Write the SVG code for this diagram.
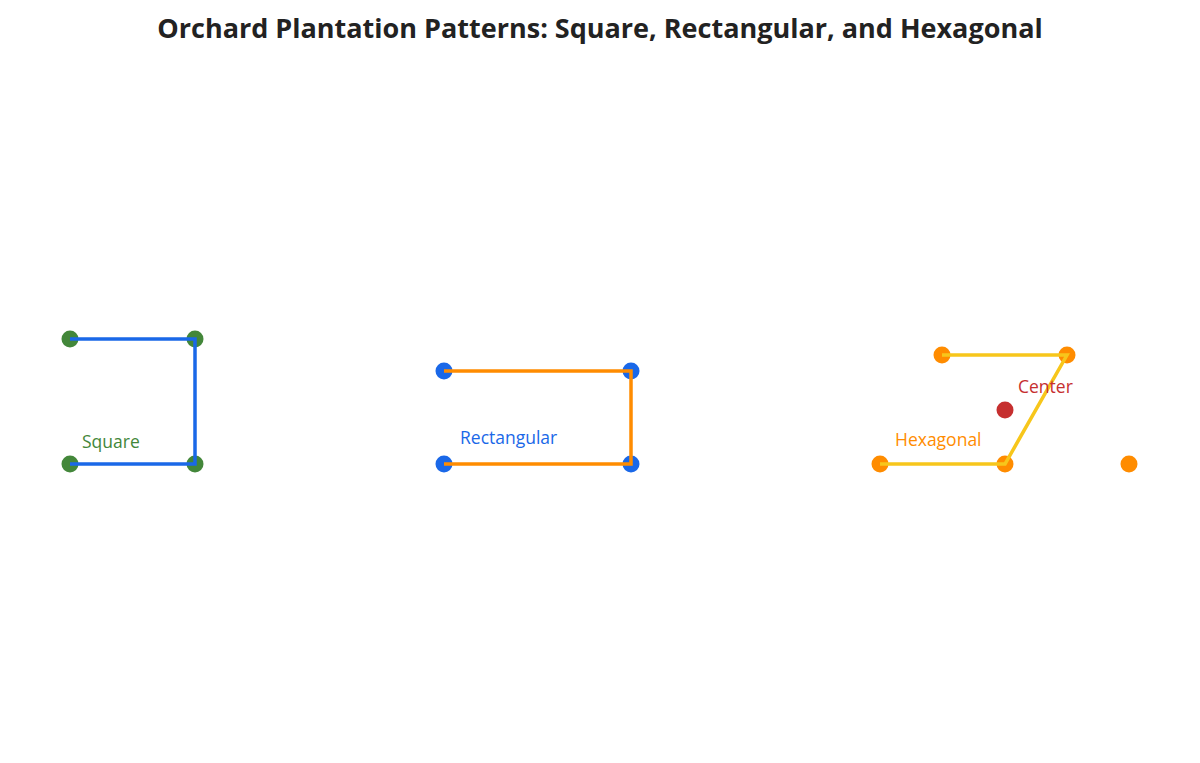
<svg xmlns="http://www.w3.org/2000/svg" width="1200" height="763" viewBox="0 0 1200 763">
<style>
text{font-family:"Open Sans","Noto Sans",sans-serif}
.t{font-size:27px;font-weight:700;fill:#222}
.l{font-size:17.5px}
.e{fill:none;stroke-width:3.5;stroke-linejoin:miter}
</style>
<rect width="1200" height="763" fill="#fff"/>
<text class="t" x="600" y="38" text-anchor="middle">Orchard Plantation Patterns: Square, Rectangular, and Hexagonal</text>
<g id="square-nodes" fill="#43873a">
<circle cx="70" cy="339" r="8.5"/><circle cx="195" cy="339" r="8.5"/><circle cx="70" cy="464" r="8.5"/><circle cx="195" cy="464" r="8.5"/>
</g>
<g id="rect-nodes" fill="#1a68e8">
<circle cx="444" cy="371" r="8.5"/><circle cx="631" cy="371" r="8.5"/><circle cx="444" cy="464" r="8.5"/><circle cx="631" cy="464" r="8.5"/>
</g>
<g id="hex-nodes" fill="#ff8c00">
<circle cx="942" cy="355" r="8.5"/><circle cx="1067" cy="355" r="8.5"/><circle cx="880" cy="464" r="8.5"/><circle cx="1005" cy="464" r="8.5"/><circle cx="1129" cy="464" r="8.5"/>
</g>
<g id="center"><circle cx="1005" cy="410" r="8.5" fill="#c62f2f"/></g>
<g id="connectors">
<path class="e" stroke="#1a68e8" d="M70 339H195V464H70"/>
<path class="e" stroke="#ff8c00" d="M444 371H631V464H444"/>
<path class="e" stroke="#f7c61b" d="M942 355H1067L1005 464H880"/>
</g>
<g id="labels" class="l">
<text x="82" y="448" fill="#43873a">Square</text>
<text x="460" y="444" fill="#1a68e8">Rectangular</text>
<text x="895" y="446" fill="#ff8c00">Hexagonal</text>
<text x="1018" y="393" fill="#c62f2f">Center</text>
</g>
</svg>
